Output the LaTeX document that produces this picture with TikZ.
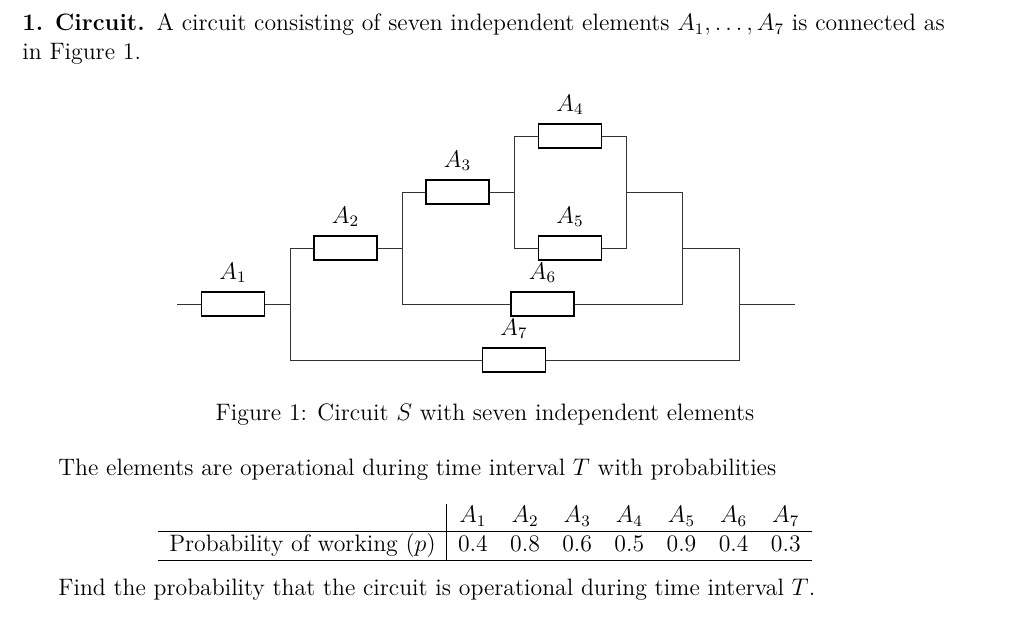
\documentclass[tikz,border=0pt,12pt]{standalone}
\begin{document}
\begin{tikzpicture}[x=0.5pt,y=-0.5pt,
  every node/.append style={font=\fontsize{11.88}{14.5}\selectfont},
  res/.style={draw,line width=0.8pt,minimum width=31.5pt,minimum height=12pt,inner sep=0pt,fill=white},
  lab/.style={above=3pt,inner sep=1pt},
  wire/.style={line width=0.45pt,black!80},
  txt/.style={anchor=base west,inner sep=0pt}]
\useasboundingbox (0,0) rectangle (1014,630);
% text
\node[txt] (t1) at (22,31) {\textbf{1. Circuit.}\enspace A circuit consisting of seven independent elements $A_1,\dots,A_7$ is connected as};
\node[txt] (t2) at (22,60) {in Figure 1.};
% nodes
\coordinate (in) at (177,304);
\coordinate (out) at (795,304);
\node[res] (A1) at (233,304) {}; \node[lab] at (A1.north) {$A_1$};
\node[res] (A2) at (345.5,248) {}; \node[lab] at (A2.north) {$A_2$};
\node[res] (A3) at (457.5,192) {}; \node[lab] at (A3.north) {$A_3$};
\node[res] (A4) at (570,136) {}; \node[lab] at (A4.north) {$A_4$};
\node[res] (A5) at (570,248) {}; \node[lab] at (A5.north) {$A_5$};
\node[res] (A6) at (542.5,304) {}; \node[lab] at (A6.north) {$A_6$};
\node[res] (A7) at (514,360) {}; \node[lab] at (A7.north) {$A_7$};
\coordinate (j1) at (290,304);
\coordinate (j2) at (402,248);
\coordinate (j3) at (514,192);
\coordinate (j4) at (626,192);
\coordinate (j5) at (682,248);
\coordinate (j6) at (739,304);
\draw[wire] (in) -- (A1.west);
\draw[wire] (A1.east) -- (j1);
\draw[wire] (j1 |- A2) -- (j1 |- A7);
\draw[wire] (j1 |- A2) -- (A2.west);
\draw[wire] (j1 |- A7) -- (A7.west);
\draw[wire] (A2.east) -- (j2);
\draw[wire] (j2 |- A3) -- (j2 |- A6);
\draw[wire] (j2 |- A3) -- (A3.west);
\draw[wire] (j2 |- A6) -- (A6.west);
\draw[wire] (A3.east) -- (j3);
\draw[wire] (j3 |- A4) -- (j3 |- A5);
\draw[wire] (j3 |- A4) -- (A4.west);
\draw[wire] (j3 |- A5) -- (A5.west);
\draw[wire] (A4.east) -- (j4 |- A4) -- (j4 |- A5) -- (A5.east);
\draw[wire] (j4) -- (j5 |- j4) -- (j5 |- A6) -- (A6.east);
\draw[wire] (j5) -- (j6 |- j5) -- (j6 |- A7) -- (A7.east);
\draw[wire] (j6) -- (out);
% caption and rest
\node[anchor=base,inner sep=0pt] (cap) at (485,421) {Figure 1: Circuit $S$ with seven independent elements};
\node[txt] (t3) at (58,476) {The elements are operational during time interval $T$ with probabilities};
\node[inner sep=0pt] (tab) at (485,532) {\renewcommand{\arraystretch}{0.95}\setlength{\tabcolsep}{5.6pt}\begin{tabular}{r|ccccccc}
 & $A_1$ & $A_2$ & $A_3$ & $A_4$ & $A_5$ & $A_6$ & $A_7$\\\hline
Probability of working $(p)$ & 0.4 & 0.8 & 0.6 & 0.5 & 0.9 & 0.4 & 0.3\\\hline
\end{tabular}};
\node[txt] (t4) at (58,596) {Find the probability that the circuit is operational during time interval $T$.};
\end{tikzpicture}
\end{document}
